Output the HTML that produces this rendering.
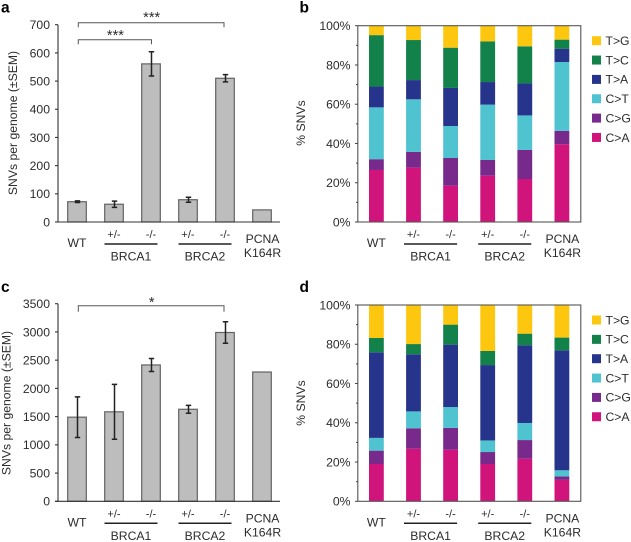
<!DOCTYPE html>
<html lang="en">
<head>
<meta charset="utf-8">
<title>SNVs per genome</title>
<style>
html,body{margin:0;padding:0;background:#fff;width:631px;height:542px;overflow:hidden}
svg{display:block;filter:blur(0.3px)}
text{font-family:"Liberation Sans",Arial,sans-serif;fill:#2c2c2c}
</style>
</head>
<body>
<svg id="figure" xmlns="http://www.w3.org/2000/svg" width="631" height="542" viewBox="0 0 631 542"></svg>
<script>
var categories = ['WT', '+/-', '-/-', '+/-', '-/-', 'PCNA K164R'];
var seriesNames = ['C>A', 'C>G', 'C>T', 'T>A', 'T>C', 'T>G'];
var seriesColors = ['#d0147c', '#772a8c', '#4fc3cf', '#27348b', '#12814a', '#fdc70f'];

var panelAValues = [72, 63, 561, 79, 510, 43];
var panelAErrors = [3, 11, 43, 9, 13, 0];
var panelATicks = [0, 100, 200, 300, 400, 500, 600, 700];

var panelCValues = [1490, 1585, 2415, 1630, 2990, 2290];
var panelCErrors = [360, 485, 115, 70, 190, 0];
var panelCTicks = [0, 500, 1000, 1500, 2000, 2500, 3000, 3500];

var panelBCA = [26.5, 27.7, 18.5, 23.6, 21.9, 39.6];
var panelBCG = [5.5, 8.0, 14.1, 8.0, 14.8, 6.8];
var panelBCT = [26.4, 26.8, 16.3, 28.2, 17.6, 35.1];
var panelBTA = [10.6, 9.8, 19.4, 11.5, 16.3, 6.8];
var panelBTC = [26.2, 20.4, 20.5, 20.7, 18.9, 4.6];
var panelBTG = [4.8, 7.3, 11.2, 8.0, 10.5, 7.1];

var panelDCA = [19.0, 26.8, 26.3, 19.0, 21.7, 10.9];
var panelDCG = [6.8, 10.4, 11.1, 6.1, 9.5, 1.8];
var panelDCT = [6.5, 8.6, 10.6, 5.9, 8.7, 3.1];
var panelDTA = [43.6, 29.1, 31.8, 38.4, 39.6, 61.1];
var panelDTC = [7.3, 5.2, 10.2, 7.2, 5.9, 6.5];
var panelDTG = [16.8, 19.9, 10.0, 23.4, 14.6, 16.6];

var percentTicks = [0, 20, 40, 60, 80, 100];

var svg = document.getElementById('figure');
var NS = 'http://www.w3.org/2000/svg';

function add(tag, attrs, parent) {
  var el = document.createElementNS(NS, tag);
  for (var k in attrs) el.setAttribute(k, attrs[k]);
  (parent || svg).appendChild(el);
  return el;
}
function label(str, x, y, size, anchor, parent, weight) {
  var el = add('text', {x: x, y: y, 'font-size': size, 'text-anchor': anchor || 'middle'}, parent);
  if (weight) el.setAttribute('font-weight', weight);
  el.textContent = str;
  return el;
}
function linearScale(d0, d1, r0, r1) {
  return function (v) { return r0 + (v - d0) * (r1 - r0) / (d1 - d0); };
}
function bandScale(first, step) {
  return function (i) { return first + i * step; };
}
function line(x1, y1, x2, y2, color, width, parent) {
  return add('line', {x1: x1, y1: y1, x2: x2, y2: y2, stroke: color, 'stroke-width': width}, parent);
}

function xLabels(g, xs, y0, name) {
  categories.forEach(function (c, i) {
    if (c === 'WT') {
      var wt = label(c, xs(i), y0 + 25, 12.2, 'middle', g);
      
      
    } else if (c.indexOf('PCNA') === 0) {
      var parts = c.split(' ');
      var p1 = label(parts[0], xs(i) + 0.5, y0 + 21, 12.2, 'middle', g);
      
      
      var p2 = label(parts[1], xs(i) + 0.5, y0 + 35, 12.2, 'middle', g);
      
      
    } else {
      var gt = label(c, xs(i), y0 + 16, 11, 'middle', g);
      
      
    }
  });
  [['BRCA1', 1, 2], ['BRCA2', 3, 4]].forEach(function (b) {
    var left = xs(b[1]) - 9.5, right = xs(b[2]) + 6.5;
    var u = line(left, y0 + 22, right, y0 + 22, '#222', 1.5, g);
    
    
    var t = label(b[0], (left + right) / 2, y0 + 38.5, 12.2, 'middle', g);
    
    
  });
}

function yTitle(g, str, x, y, name) {
  var t = add('text', {x: 0, y: 0, 'font-size': 12.2, 'text-anchor': 'middle',
    transform: 'translate(' + x + ',' + y + ') rotate(-90)'}, g);
  t.textContent = str;
  
  
}

function panelLetter(str, x, y) {
  var t = label(str, x, y, 15.5, 'start', svg, 'bold');
  t.style.fill = '#000';
  
  
}

function bracket(g, x1, x2, y, tip, stars, starY, name) {
  var p = add('path', {d: 'M' + x1 + ' ' + tip + 'V' + y + 'H' + x2 + 'V' + tip,
    fill: 'none', stroke: '#555', 'stroke-width': 1}, g);
  
  
  var s = label(stars, (x1 + x2) / 2 + 0.5, starY, 14.5, 'middle', g);
  
  
}

function barPanel(name, values, errors, ticks, top, bottom, title, titleX, titleY) {
  var g = add('g', {});
  
  
  var maxV = ticks[ticks.length - 1];
  var y = linearScale(0, maxV, bottom, top);
  var x = bandScale(77, 37);
  values.forEach(function (v, i) {
    var bar = add('rect', {x: x(i) - 9.3, y: y(v), width: 18.6, height: bottom - y(v),
      fill: '#bdbdbd', stroke: '#626262', 'stroke-width': 1.2}, g);
    
    
  });
  values.forEach(function (v, i) {
    if (!errors[i]) return;
    var cx = x(i) + 0.5;
    var hi = y(v + errors[i]), lo = y(v - errors[i]);
    var eb = add('path', {d: 'M' + cx + ' ' + hi + 'V' + lo + 'M' + (cx - 2.7) + ' ' + hi + 'H' + (cx + 2.7) +
      'M' + (cx - 2.7) + ' ' + lo + 'H' + (cx + 2.7), fill: 'none', stroke: '#222', 'stroke-width': 1.5}, g);
    
    
  });
  var yAxis = line(58, top, 58, bottom, '#333', 1.1, g);
  
  
  var xAxis = line(55, bottom, 280, bottom, '#333', 1.1, g);
  
  
  ticks.forEach(function (t) {
    var tk = line(55, y(t), 58, y(t), '#333', 1.1, g);
    
    
    var tl = label(String(t), 50, y(t) + 4.4, 12.2, 'end', g);
    
    
  });
  xLabels(g, x, bottom, name);
  yTitle(g, title, titleX, titleY, name);
  return g;
}

function stackPanel(name, stacks, top, bottom, titleY, legendTop) {
  var g = add('g', {});
  
  
  var y = linearScale(0, 100, bottom, top);
  var x = bandScale(376.4, 37.1);
  categories.forEach(function (c, i) {
    var sum = 0;
    stacks.forEach(function (s, j) {
      var seg = add('rect', {x: x(i) - 7.4, y: y(sum + s[i]), width: 14.8,
        height: y(sum) - y(sum + s[i]), fill: seriesColors[j]}, g);
      
      
      sum += s[i];
    });
  });
  var frame = add('rect', {x: 357.8, y: top, width: 223, height: bottom - top,
    fill: 'none', stroke: '#555', 'stroke-width': 1.1}, g);
  
  
  percentTicks.forEach(function (t, i) {
    var tk = line(355, y(t), 357.8, y(t), '#444', 1, g);
    
    
    if (i < percentTicks.length - 1) {
      var mid = (t + percentTicks[i + 1]) / 2;
      var mn = line(356, y(mid), 357.8, y(mid), '#444', 1, g);
      
      
    }
    var tl = label(t + '%', 350.5, y(t) + 4.4, 12.2, 'end', g);
    
    
  });
  xLabels(g, x, bottom, name);
  yTitle(g, '% SNVs', 305, titleY, name);
  seriesNames.forEach(function (s, j) {
    var row = 5 - j;
    var cy = legendTop + row * 19.35;
    var sw = add('rect', {x: 592, y: cy - 4.5, width: 9, height: 9, fill: seriesColors[j]}, g);
    
    
    var lt = label(s, 605.5, cy + 4.3, 12.2, 'start', g);
    
    
  });
  return g;
}

panelLetter('a', 1, 12.5);
panelLetter('b', 299.5, 12.5);
panelLetter('c', 1, 292);
panelLetter('d', 299.5, 292);

var gA = barPanel('panel-a', panelAValues, panelAErrors, panelATicks, 24.7, 222, 'SNVs per genome (\u00b1SEM)', 17, 123);
bracket(gA, 78.3, 224, 22.7, 27.3, '***', 22, 'panel-a-upper');
bracket(gA, 78.3, 151.5, 39.7, 44.3, '***', 40, 'panel-a-lower');

var gC = barPanel('panel-c', panelCValues, panelCErrors, panelCTicks, 303.7, 501.3, 'SNVs per genome (\u00b1SEM)', 10.5, 403);
bracket(gC, 78.3, 224, 305.8, 311.8, '*', 307, 'panel-c');

stackPanel('panel-b', [panelBCA, panelBCG, panelBCT, panelBTA, panelBTC, panelBTG], 25.7, 222, 123, 40.7);
stackPanel('panel-d', [panelDCA, panelDCG, panelDCT, panelDTA, panelDTC, panelDTG], 305, 501.3, 403, 320);
</script>
</body>
</html>
